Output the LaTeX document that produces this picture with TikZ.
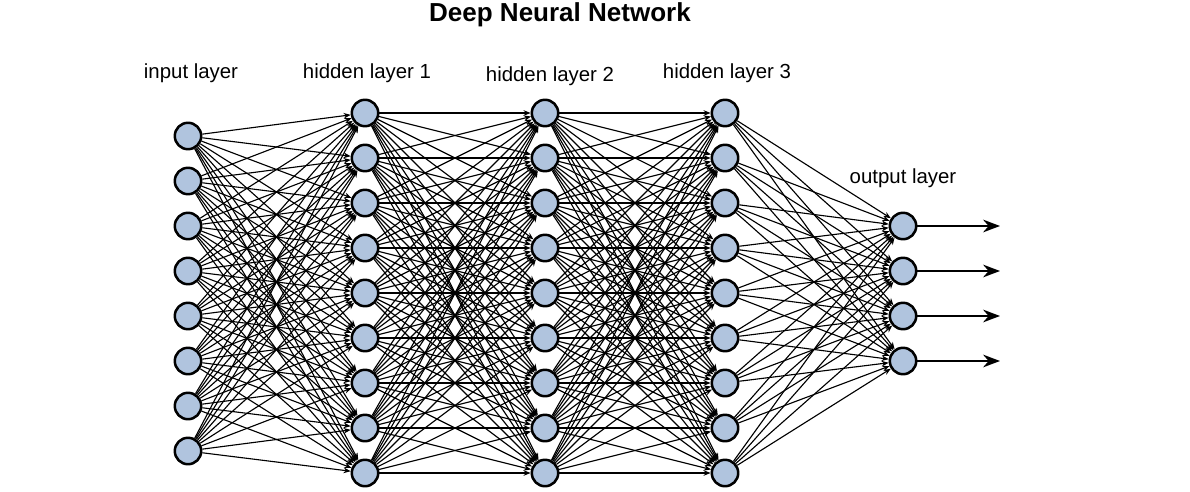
\documentclass[tikz,border=0pt]{standalone}
\usepackage{fontspec}
\setmainfont{Liberation Sans}
\usetikzlibrary{arrows.meta,positioning}
\definecolor{nodeblue}{RGB}{176,196,222}
\tikzset{
neuron/.style = {draw, fill=nodeblue, circle, line width=1.8pt, minimum size=0.66cm, inner sep=0pt},
synapse/.style = {-{Stealth[length=5pt,width=4pt]}, line width=0.8pt},
outarrow/.style = {-{Stealth[length=12pt,width=9pt]}, line width=1.5pt},
layerlabel/.style = {font=\fontsize{14.5}{17}\selectfont},
title/.style = {font=\bfseries\fontsize{18.5}{22}\selectfont}
}
\begin{document}
\begin{tikzpicture}[x=0.025cm,y=-0.025cm]
        \useasboundingbox (0,0) rectangle (1190,492);
        % titles
        \node [title] (title) at (560,15) {Deep Neural Network};
        \node [layerlabel] (lin) at (191,73) {input layer};
        \node [layerlabel] (lha) at (367,73) {hidden layer 1};
        \node [layerlabel] (lhb) at (550,76) {hidden layer 2};
        \node [layerlabel] (lhc) at (727,73) {hidden layer 3};
        \node [layerlabel] (lout) at (903,178) {output layer};
        % layers
        \foreach \i in {1,...,8}
            \node [neuron] (in\i) at (188,{91+45*\i}) {};
        \foreach \i in {1,...,9} {
            \node [neuron] (ha\i) at (365,{68+45*\i}) {};
            \node [neuron] (hb\i) at (545,{68+45*\i}) {};
            \node [neuron] (hc\i) at (725,{68+45*\i}) {};
        }
        \foreach \i in {1,...,4} {
            \node [neuron] (out\i) at (903,{181+45*\i}) {};
            \coordinate (y\i) at (1000,{181+45*\i});
        }
        % connections
        \foreach \i in {1,...,8}
            \foreach \j in {1,...,9}
                \draw [synapse] (in\i) -- (ha\j);
        \foreach \i in {1,...,9}
            \foreach \j in {1,...,9} {
                \draw [synapse] (ha\i) -- (hb\j);
                \draw [synapse] (hb\i) -- (hc\j);
            }
        \foreach \i in {1,...,9}
            \foreach \j in {1,...,4}
                \draw [synapse] (hc\i) -- (out\j);
        \foreach \i in {1,...,4}
            \draw [outarrow] (out\i) -- (y\i);
\end{tikzpicture}
\end{document}
